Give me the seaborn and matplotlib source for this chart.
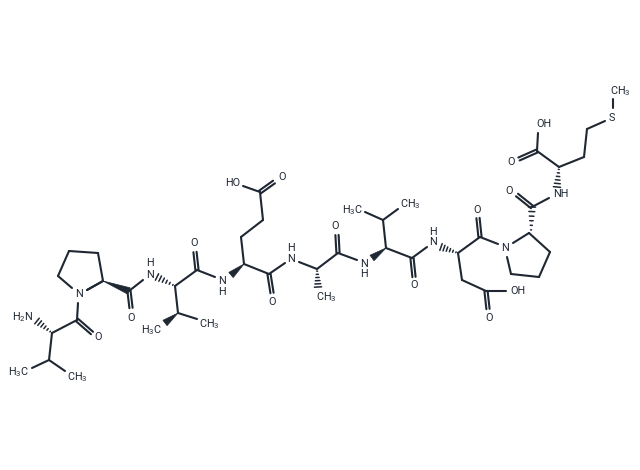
import numpy as np
import pandas as pd
import matplotlib
matplotlib.use("Agg")
import matplotlib.pyplot as plt
import seaborn as sns

# all values, in pixels
# plain bonds: x1, y1, x2, y2
bond_x1 = [52, 77, 52, 49, 49, 72, 58, 69, 98, 103, 87, 129, 175, 175, 178, 197,
           244, 241, 263, 260, 269, 269, 299, 317, 338, 386, 383, 383, 386, 412,
           458, 480, 513, 529, 550, 539, 511, 458, 462, 486, 532, 559, 559, 584, 587, 613, 537]
bond_y1 = [333, 320, 333, 360, 360, 288, 276, 251, 253, 281, 290, 291, 286, 286, 313, 270,
           264, 237, 220, 192, 274, 274, 262, 269, 253, 248, 220, 220, 248, 258,
           253, 237, 243, 233, 252, 277, 274, 253, 280, 291, 207, 167, 167, 157, 129, 108, 151]
bond_x2 = [77, 78, 49, 32, 65, 58, 69, 98, 103, 87, 103, 143, 197, 178, 197, 215,
           241, 263, 260, 243, 244, 285, 317, 338, 357, 383, 365, 398, 412, 427,
           480, 498, 529, 550, 539, 511, 507, 462, 486, 506, 549, 537, 584, 587, 605, 613, 538]
bond_y2 = [320, 303, 360, 368, 371, 276, 251, 253, 281, 290, 281, 280, 270, 313, 319, 277,
           237, 220, 192, 186, 264, 263, 269, 253, 260, 220, 212, 209, 258, 247,
           237, 244, 233, 252, 277, 274, 257, 280, 291, 291, 198, 151, 157, 129, 121, 99, 133]

# double bonds, centre line from carbon to oxygen
double_x1 = [77, 129, 197, 269, 260, 338, 412, 480, 486, 532, 537]
double_y1 = [320, 291, 270, 274, 192, 253, 258, 237, 291, 207, 151]
double_x2 = [92, 131, 195, 272, 274, 337, 414, 478, 488, 517, 519]
double_y2 = [333, 308, 252, 293, 182, 235, 277, 218, 309, 195, 159]

# hashed stereo bonds, narrow end first
hash_x1 = [52, 175, 317, 458, 531, 559]
hash_y1 = [333, 286, 269, 253, 233, 167]
hash_x2 = [37, 157, 318, 441, 532, 557]
hash_y2 = [321, 277, 287, 247, 207, 187]

# solid stereo bonds, narrow end first
wedge_x1 = [103, 178, 244, 386]
wedge_y1 = [281, 313, 264, 248]
wedge_x2 = [129, 165, 231, 372]
wedge_y2 = [291, 323, 275, 258]

# atom labels
label_text = ["H$_2$N", "O", "N", "H$_3$C", "CH$_3$", "O", "H", "N", "H$_3$C", "CH$_3$",
              "O", "HO", "O", "N", "H", "O", "H", "N", "O", "CH$_3$",
              "N", "H", "H$_3$C", "CH$_3$", "O", "H", "N", "O", "N", "OH", "O",
              "O", "NH", "O", "OH", "S", "CH$_3$"]
label_x = [23, 98, 79, 18, 77, 131, 150, 150, 151, 209,
           194, 233, 282, 222, 222, 272, 291, 291, 335, 326,
           364, 364, 352, 410, 414, 433, 433, 477, 505, 518, 489,
           509, 561, 511, 544, 612, 620]
label_y = [317, 337, 294, 372, 377, 318, 263, 275, 330, 324,
           243, 183, 177, 281, 292, 302, 248, 259, 226, 297,
           264, 274, 210, 204, 285, 232, 242, 210, 248, 291, 318,
           191, 194, 162, 124, 118, 91]

INK = "#1f2733"


def long_form(x1, y1, x2, y2):
    # one row per bond end, so lineplot can draw each bond as its own unit
    n = len(x1)
    return pd.DataFrame({
        "bond": np.repeat(np.arange(n), 2),
        "x": np.column_stack([x1, x2]).ravel(),
        "y": np.column_stack([y1, y2]).ravel(),
    })


def draw(df, ax, lw):
    sns.lineplot(data=df, x="x", y="y", units="bond", estimator=None, sort=False,
                 color=INK, linewidth=lw, legend=False, ax=ax,
                 solid_capstyle="round")


sns.set_theme(style="white")
plt.rcParams["font.family"] = ["Roboto", "DejaVu Sans"]
plt.rcParams["mathtext.fontset"] = "custom"
plt.rcParams["mathtext.rm"] = "Roboto"
plt.rcParams["mathtext.default"] = "rm"

fig = plt.figure(figsize=(6.4, 4.7), dpi=100)
ax = fig.add_axes([0, 0, 1, 1])

draw(long_form(bond_x1, bond_y1, bond_x2, bond_y2), ax, 1.5)

# double bonds: two parallels either side of the centre line
dx1, dy1 = np.array(double_x1, float), np.array(double_y1, float)
dx2, dy2 = np.array(double_x2, float), np.array(double_y2, float)
length = np.hypot(dx2 - dx1, dy2 - dy1)
nx, ny = -(dy2 - dy1) / length * 1.6, (dx2 - dx1) / length * 1.6
draw(long_form(dx1 + nx, dy1 + ny, dx2 + nx, dy2 + ny), ax, 1.5)
draw(long_form(dx1 - nx, dy1 - ny, dx2 - nx, dy2 - ny), ax, 1.5)

# hashed bonds as short ticks that widen away from the stereo centre
x1s, y1s, x2s, y2s = [], [], [], []
for xa, ya, xb, yb in zip(hash_x1, hash_y1, hash_x2, hash_y2):
    length = np.hypot(xb - xa, yb - ya)
    px, py = -(yb - ya) / length, (xb - xa) / length
    for t in np.linspace(0.12, 1, 6):
        half = 3.6 * t
        cx, cy = xa + (xb - xa) * t, ya + (yb - ya) * t
        x1s.append(cx - px * half)
        y1s.append(cy - py * half)
        x2s.append(cx + px * half)
        y2s.append(cy + py * half)
draw(long_form(x1s, y1s, x2s, y2s), ax, 1.1)

# solid wedges
for xa, ya, xb, yb in zip(wedge_x1, wedge_y1, wedge_x2, wedge_y2):
    length = np.hypot(xb - xa, yb - ya)
    px, py = -(yb - ya) / length * 3.4, (xb - xa) / length * 3.4
    ax.fill([xa, xb + px, xb - px], [ya, yb + py, yb - py], color=INK, lw=0.5)

for txt, x, y in zip(label_text, label_x, label_y):
    ax.text(x, y, txt, fontsize=7.8, color=INK, ha="center", va="center")

ax.set_xlim(0, 640)
ax.set_ylim(470, 0)
ax.axis("off")
fig.savefig("out.png", dpi=100, facecolor="white")
plt.close(fig)
